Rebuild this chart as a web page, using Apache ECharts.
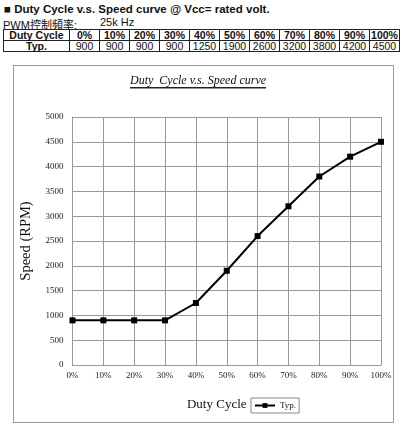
<!DOCTYPE html>
<html>
<head>
<meta charset="utf-8">
<script src="https://cdn.jsdelivr.net/npm/echarts@6/dist/echarts.min.js"></script>
<style>
  html, body { margin: 0; padding: 0; background: #fff; }
  body { width: 402px; height: 425px; position: relative; overflow: hidden; font-family: "Liberation Sans", Arial, sans-serif; color: #111; }
  .head { position: absolute; left: 4px; top: 3px; font-size: 11.5px; font-weight: bold; }
  .pwm { position: absolute; left: 3px; top: 16px; font-size: 11px; font-family: "Liberation Sans", "Noto Sans CJK TC", sans-serif; }
  .pwm span { position: absolute; left: 97px; white-space: nowrap; }
  table { position: absolute; left: 3px; top: 29px; border-collapse: collapse; font-size: 10.5px; }
  td { border: 1px solid #222; height: 10px; padding: 0; text-align: center; line-height: 10px; }
  td.first { width: 65px; font-weight: bold; }
  td.c { width: 29px; }
  tr.hd td { font-weight: bold; }
  #main { position: absolute; left: 13px; top: 65px; width: 381px; height: 358px; border: 1px solid #999; box-sizing: border-box; }
</style>
</head>
<body>
<div class="head">&#9632; Duty Cycle v.s. Speed curve @ Vcc= rated volt.</div>
<div class="pwm">PWM控制頻率:<span>25k Hz</span></div>
<table id="tbl"></table>
<div id="main"></div>
<script>
// 數據
const dutyLabels = ["0%", "10%", "20%", "30%", "40%", "50%", "60%", "70%", "80%", "90%", "100%"];
const speedTyp = [900, 900, 900, 900, 1250, 1900, 2600, 3200, 3800, 4200, 4500];

// 上方表格
const tbl = document.getElementById("tbl");
let html = '<tr class="hd"><td class="first">Duty Cycle</td>';
dutyLabels.forEach(d => { html += '<td class="c">' + d + "</td>"; });
html += '</tr><tr><td class="first">Typ.</td>';
speedTyp.forEach(v => { html += '<td class="c">' + v + "</td>"; });
html += "</tr>";
tbl.innerHTML = html;

const serif = "'Liberation Serif', 'Times New Roman', serif";
const myChart = echarts.init(document.getElementById("main"));
const option = {
  backgroundColor: "#fff",
  animation: false,
  title: {
    text: "Duty  Cycle v.s. Speed curve",
    left: 116,
    top: 9,
    padding: 0,
    textStyle: {
      fontFamily: serif,
      fontStyle: "italic",
      fontWeight: "normal",
      fontSize: 12,
      color: "#111"
    }
  },
  graphic: [
    {
      type: "rect",
      shape: { x: 116, y: 21, width: 136, height: 1.5 },
      style: { fill: "#222" }
    }
  ],
  legend: {
    data: ["Typ."],
    left: 237,
    top: 332,
    borderColor: "#888",
    borderWidth: 1,
    padding: [3, 3, 3, 3],
    itemWidth: 20,
    itemHeight: 6,
    itemGap: 2,
    textStyle: { fontFamily: serif, fontSize: 9, color: "#111" }
  },
  grid: {
    left: 58.5,
    right: 12,
    top: 51,
    bottom: 57,
    outerBoundsMode: "none"
  },
  xAxis: {
    type: "category",
    boundaryGap: false,
    data: dutyLabels,
    name: "Duty Cycle",
    nameLocation: "middle",
    nameGap: 33,
    nameTextStyle: { fontFamily: serif, fontSize: 13, color: "#111", padding: [0, 20, 0, 0] },
    axisLine: { lineStyle: { color: "#999", width: 1 } },
    axisTick: { show: false },
    axisLabel: { fontFamily: serif, fontSize: 9, color: "#222", margin: 6 },
    splitLine: { show: true, lineStyle: { color: "#999", width: 1 } }
  },
  yAxis: {
    type: "value",
    min: 0,
    max: 5000,
    interval: 500,
    name: "Speed (RPM)",
    nameLocation: "middle",
    nameGap: 39,
    nameTextStyle: { fontFamily: serif, fontSize: 14.5, color: "#111" },
    axisLine: { show: true, lineStyle: { color: "#999", width: 1 } },
    axisTick: { show: false },
    axisLabel: { fontFamily: serif, fontSize: 9, color: "#222", margin: 9, formatter: v => String(v) },
    splitLine: { show: true, lineStyle: { color: "#999", width: 1 } }
  },
  series: [
    {
      name: "Typ.",
      type: "line",
      data: speedTyp,
      symbol: "rect",
      symbolSize: 6,
      itemStyle: { color: "#000" },
      lineStyle: { color: "#000", width: 2 }
    }
  ]
};
myChart.setOption(option);
</script>
</body>
</html>
